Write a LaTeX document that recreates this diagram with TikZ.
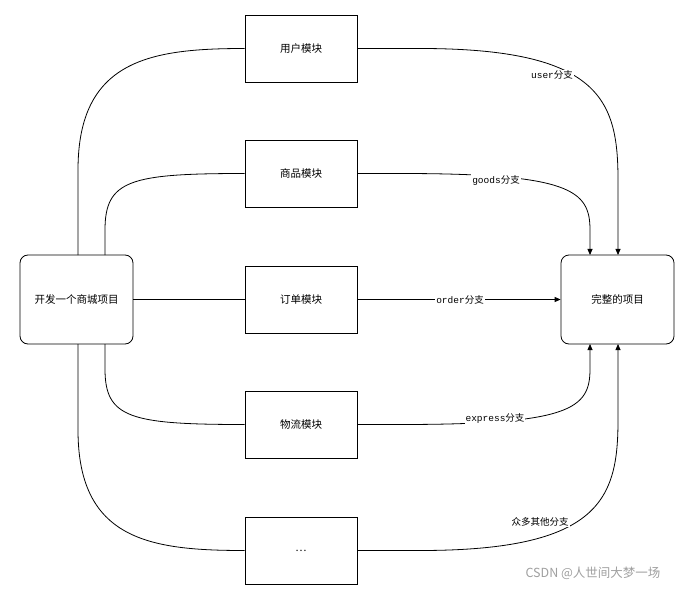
\documentclass[tikz,border=0pt]{standalone}
\usepackage{fontspec}
\setmainfont{Noto Sans CJK SC}
\newfontfamily\lm{Liberation Mono}
\usetikzlibrary{arrows.meta}
\begin{document}
\begin{tikzpicture}[x=1pt,y=-1pt,
  box/.style={draw,line width=0.8pt,minimum width=112pt,minimum height=67pt,font=\fontsize{10.5}{12}\selectfont},
  rbox/.style={box,rounded corners=8pt,minimum width=113pt,minimum height=89pt},
  ln/.style={line width=0.8pt},
  ar/.style={ln,-{Triangle[length=6pt,width=5pt]}},
  lab/.style={fill=white,inner sep=1pt,font=\fontsize{9.5}{11}\selectfont}]
\useasboundingbox (0,0) rectangle (692,593);
\node[rbox] (L) at (76.5,299.5) {开发一个商城项目};
\node[rbox] (R) at (617.5,299.5) {完整的项目};
\node[box] (u) at (301,48.5) {用户模块};
\node[box] (g) at (301,173.5) {商品模块};
\node[box] (o) at (301,299.5) {订单模块};
\node[box] (e) at (301,424.5) {物流模块};
\node[box] (d) at (301,550.5) {…};
\coordinate (Lt1) at (78,255); \coordinate (Lt2) at (105,255);
\coordinate (Lb1) at (78,344); \coordinate (Lb2) at (105,344);
\coordinate (Rt1) at (618,255); \coordinate (Rt2) at (590,255);
\coordinate (Rb1) at (618,344); \coordinate (Rb2) at (590,344);
\draw[ln] (Lt1) -- (78,170) .. controls (78,60) and (150,48.5) .. (u.west);
\draw[ln] (Lt2) -- (105,230) .. controls (105,180) and (130,173.5) .. (g.west);
\draw[ln] (L.east) -- (o.west);
\draw[ln] (Lb2) -- (105,369) .. controls (105,418) and (130,424.5) .. (e.west);
\draw[ln] (Lb1) -- (78,430) .. controls (78,540) and (150,550.5) .. (d.west);
\draw[ar] (u.east) -- (420,48.5) .. controls (600,48.5) and (618,100) .. (618,180) -- (Rt1);
\draw[ar] (g.east) -- (400,173.5) .. controls (570,173.5) and (590,190) .. (590,230) -- (Rt2);
\draw[ar] (o.east) -- (R.west);
\draw[ar] (e.east) -- (400,424.5) .. controls (570,424.5) and (590,409) .. (590,369) -- (Rb2);
\draw[ar] (d.east) -- (420,550.5) .. controls (600,550.5) and (618,499) .. (618,420) -- (Rb1);
\node[lab] (l1) at (552,75) {{\lm user}分支};
\node[lab] (l2) at (496,180) {{\lm goods}分支};
\node[lab] (l3) at (460,299.5) {{\lm order}分支};
\node[lab] (l4) at (495,418) {{\lm express}分支};
\node[lab] (l5) at (540,522) {众多其他分支};
\node[text=gray!75,font=\fontsize{12.5}{14}\selectfont] (wm) at (593,573) {CSDN @人世间大梦一场};
\end{tikzpicture}
\end{document}
